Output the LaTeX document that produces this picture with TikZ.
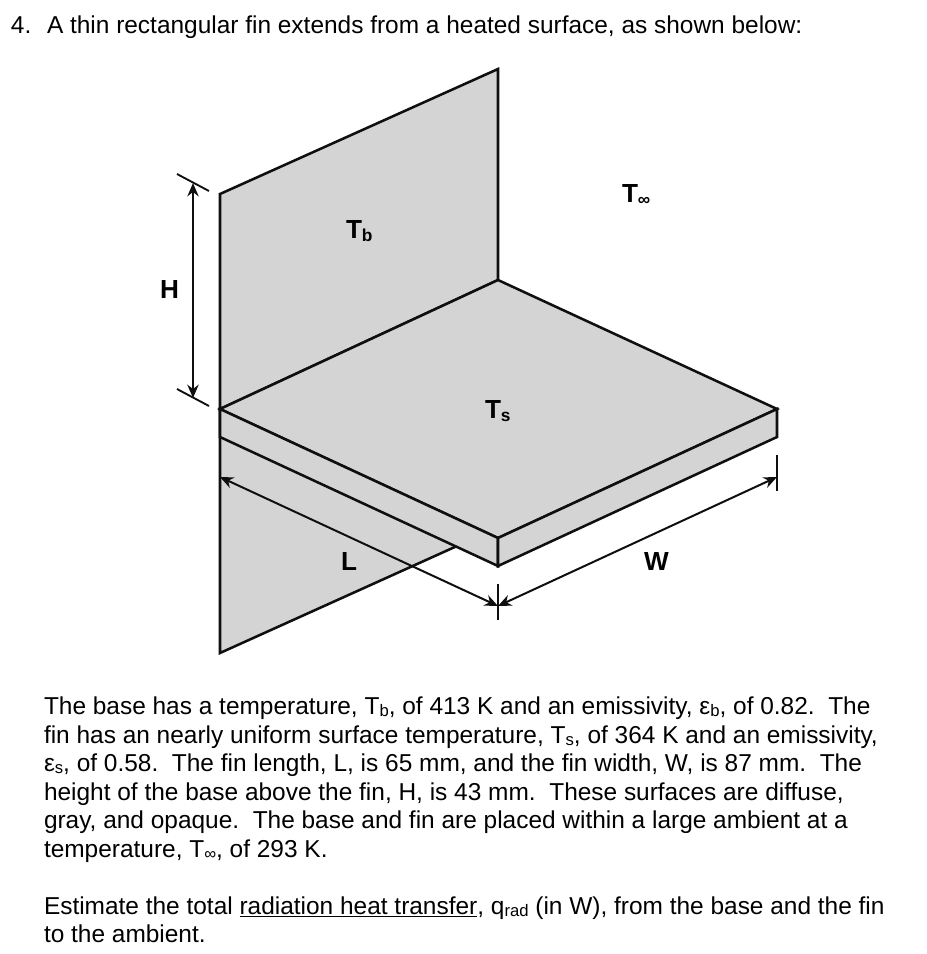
\documentclass[tikz,border=0pt]{standalone}
\usepackage{fontspec}
\setmainfont{Liberation Sans}
\usetikzlibrary{arrows.meta}
\definecolor{fingray}{RGB}{212,212,212}
\definecolor{ink}{RGB}{15,15,15}
\newcommand{\sbs}[1]{\raisebox{-0.1em}{\fontsize{12.5pt}{14pt}\selectfont #1}}
\newcommand{\lsb}[1]{\raisebox{-0.12em}{\fontsize{13pt}{15pt}\selectfont\bfseries #1}}
\tikzset{
  x=0.75pt,y=-0.75pt,
  face/.style={fill=fingray,draw=ink,line width=1.9pt,line join=miter},
  edgeline/.style={draw=ink,line width=1.9pt},
  tick/.style={draw=ink,line width=1.4pt},
  dim/.style={draw=ink,line width=1.5pt,{Stealth[length=10pt,width=8.5pt]}-{Stealth[length=10pt,width=8.5pt]}},
  txt/.style={anchor=base west,inner sep=0pt,outer sep=0pt,font=\fontsize{18.33pt}{22pt}\selectfont},
  lab/.style={anchor=base west,inner sep=0pt,outer sep=0pt,font=\fontsize{19.6pt}{22pt}\selectfont\bfseries},
}
\begin{document}
\begin{tikzpicture}
\useasboundingbox (0,0) rectangle (926,954);
\coordinate (wallA) at (220,194);
\coordinate (wallB) at (498,69);
\coordinate (back) at (498,280);
\coordinate (root) at (220,409);
\coordinate (rootlow) at (220,437);
\coordinate (right) at (777,409);
\coordinate (rightlow) at (777,437);
\coordinate (front) at (498,538);
\coordinate (frontlow) at (498,566);
\coordinate (wallC) at (220,653);
\coordinate (wallD) at (457,546);
% lower wall and upper wall
\path[fill=fingray] (root) -- (wallC) -- (wallD) -- (frontlow) -- (rootlow) -- cycle;
\draw[edgeline] (wallD) -- (wallC) -- (root);
\draw[face] (root) -- (wallA) -- (wallB) -- (back) -- cycle;
% fin
\draw[face] (root) -- (back) -- (right) -- (front) -- cycle;
\draw[face] (root) -- (front) -- (frontlow) -- (rootlow) -- cycle;
\draw[face] (front) -- (right) -- (rightlow) -- (frontlow) -- cycle;
% dimensions
\coordinate (Ht1) at (177,174); \coordinate (Ht2) at (209,191);
\coordinate (Hb1) at (177,389); \coordinate (Hb2) at (209,406);
\coordinate (Hu) at (193,183); \coordinate (Hd) at (193,398);
\coordinate (Lleft) at (220,477); \coordinate (mid) at (498,606);
\coordinate (Wright) at (777,477);
\coordinate (mt) at (498,584); \coordinate (mb) at (498,620);
\coordinate (wt) at (777,455); \coordinate (wb) at (777,491);
\draw[tick] (Ht1) -- (Ht2);
\draw[tick] (Hb1) -- (Hb2);
\draw[dim] (Hu) -- (Hd);
\draw[dim] (Lleft) -- (mid);
\draw[dim] (mid) -- (Wright);
\draw[tick] (mt) -- (mb);
\draw[tick] (wt) -- (wb);
% labels
\node[lab] (lH) at (160,298) {H};
\node[lab] (lTb) at (346,238) {T\lsb{b}};
\node[lab] (lTinf) at (622,202) {T\lsb{∞}};
\node[lab] (lTs) at (485,418) {T\lsb{s}};
\node[lab] (lL) at (341,570) {L};
\node[lab] (lW) at (644,570) {W};
% text
\node[txt] (q) at (11,33) {4.};
\node[txt] (qq) at (47,33) {A thin rectangular fin extends from a heated surface, as shown below:};
\node[txt] (l1) at (44,714) {The base has a temperature, T\sbs{b}, of 413 K and an emissivity, ε\sbs{b}, of 0.82.\ \ The};
\node[txt] (l2) at (44,743) {fin has an nearly uniform surface temperature, T\sbs{s}, of 364 K and an emissivity,};
\node[txt] (l3) at (44,771) {ε\sbs{s}, of 0.58.\ \ The fin length, L, is 65 mm, and the fin width, W, is 87 mm.\ \ The};
\node[txt] (l4) at (44,800) {height of the base above the fin, H, is 43 mm.\ \ These surfaces are diffuse,};
\node[txt] (l5) at (44,828) {gray, and opaque.\ \ The base and fin are placed within a large ambient at a};
\node[txt] (l6) at (44,857) {temperature, T\sbs{∞}, of 293 K.};
\node[txt] (l7) at (44,914) {Estimate the total \underline{radiation heat transfer}, q\sbs{rad} (in W), from the base and the fin};
\node[txt] (l8) at (44,942) {to the ambient.};
\end{tikzpicture}
\end{document}
